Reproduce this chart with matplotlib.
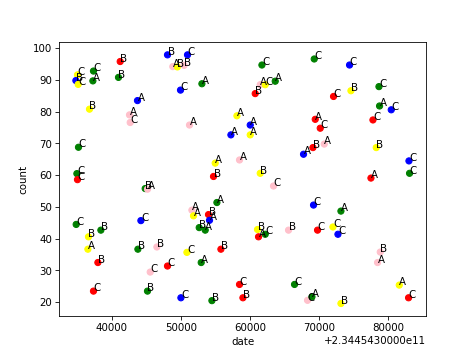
import matplotlib
matplotlib.use("Agg")
import matplotlib.pyplot as plt
from matplotlib.ticker import ScalarFormatter

base = 234454300000

date_offset = [41203, 48058, 35014, 34783, 35116, 37333, 37246, 40957, 48826, 49493,
               50464, 50957, 49942, 53043, 43710, 36754, 42551, 42652, 51246, 35159,
               34928, 35014, 61739, 61493, 62217, 63667, 60768, 58116, 60043, 60043,
               57246, 54971, 54725, 58493, 61493, 63420, 69319, 74435, 72116, 74638,
               78696, 78783, 80478, 77826, 69464, 70188, 69130, 70768, 67768, 78304,
               83043, 83130, 77536, 69217, 73188, 69797, 72029, 72754, 78884, 78493,
               81638, 82986, 73188, 68348, 68986, 66464, 55217, 51594, 51826, 54000,
               54145, 52652, 53522, 50870, 52942, 55797, 61101, 61246, 62217, 65594,
               58493, 58986, 54493, 50000, 44826, 45159, 44203, 34826, 38406, 36609,
               36522, 37971, 43768, 46522, 48058, 45551, 37333, 45159]

count = [95.8, 97.9, 91.6, 89.8, 88.6, 92.8, 89.7, 90.8, 94.2, 94.1,
         94.6, 97.9, 86.8, 88.8, 83.5, 80.8, 79.0, 76.6, 75.8, 68.8,
         60.5, 58.6, 94.7, 88.5, 88.5, 89.6, 85.7, 78.7, 75.8, 72.7,
         72.7, 63.8, 59.6, 64.8, 60.6, 56.6, 96.6, 94.7, 84.8, 86.6,
         87.9, 81.8, 80.6, 77.4, 77.6, 74.8, 68.7, 69.8, 66.6, 68.7,
         64.5, 60.6, 59.1, 50.6, 48.7, 42.7, 43.7, 41.4, 35.8, 32.5,
         25.4, 21.4, 19.6, 20.6, 21.7, 25.6, 51.4, 49.0, 47.2, 47.6,
         45.8, 43.5, 42.7, 35.7, 32.5, 36.7, 42.9, 40.6, 41.4, 42.7,
         25.6, 21.4, 20.5, 21.4, 55.8, 55.6, 45.7, 44.5, 42.7, 40.6,
         36.7, 32.5, 36.7, 37.4, 31.4, 29.5, 23.5, 23.5]

colors = ['red', 'blue', 'yellow', 'blue', 'yellow', 'green', 'green', 'green', 'pink', 'yellow',
          'pink', 'blue', 'blue', 'green', 'blue', 'yellow', 'pink', 'pink', 'pink', 'green',
          'green', 'red', 'green', 'pink', 'yellow', 'green', 'red', 'yellow', 'blue', 'yellow',
          'blue', 'yellow', 'red', 'pink', 'yellow', 'pink', 'green', 'blue', 'red', 'yellow',
          'green', 'green', 'blue', 'red', 'red', 'red', 'red', 'pink', 'blue', 'yellow',
          'blue', 'green', 'red', 'blue', 'green', 'red', 'yellow', 'blue', 'pink', 'pink',
          'yellow', 'red', 'yellow', 'pink', 'green', 'green', 'green', 'pink', 'yellow', 'red',
          'blue', 'green', 'green', 'yellow', 'green', 'red', 'yellow', 'red', 'green', 'pink',
          'red', 'red', 'green', 'blue', 'green', 'pink', 'blue', 'green', 'green', 'yellow',
          'yellow', 'red', 'green', 'pink', 'red', 'pink', 'red', 'green']

labels = ['B', 'B', 'C', 'B', 'C', 'C', 'A', 'B', 'A', 'B',
          'B', 'C', 'C', 'A', 'A', 'B', 'A', 'C', 'A', 'C',
          'C', 'C', 'C', 'A', 'C', 'A', 'B', 'A', 'A', 'A',
          'A', 'A', 'B', 'A', 'B', 'C', 'C', 'C', 'C', 'B',
          'C', 'A', 'C', 'C', 'A', 'C', 'B', 'A', 'A', 'B',
          'C', 'C', 'A', 'C', 'A', 'C', 'C', 'C', 'B', 'A',
          'A', 'C', 'B', 'C', 'A', 'C', 'A', 'A', 'A', 'B',
          'A', 'B', 'A', 'C', 'A', 'B', 'B', 'A', 'C', 'B',
          'C', 'B', 'B', 'C', 'B', 'A', 'C', 'C', 'B', 'B',
          'A', 'B', 'B', 'B', 'C', 'C', 'C', 'B']

dates = [base + d for d in date_offset]


# old-style offset string, e.g. +2.3445430000e11
class LongOffsetFormatter(ScalarFormatter):
    def get_offset(self):
        if not self.offset:
            return ''
        return '+%.10fe11' % (self.offset / 1e11)


fig = plt.figure(figsize=(6.4, 4.8), dpi=74)
ax = fig.add_subplot()
ax.scatter(dates, count, c=colors)
for x, y, t in zip(dates, count, labels):
    ax.text(x, y, t)
ax.xaxis.set_major_formatter(LongOffsetFormatter())
ax.set_xlabel("date")
ax.set_ylabel("count")

fig.savefig("out.png", dpi=74)
